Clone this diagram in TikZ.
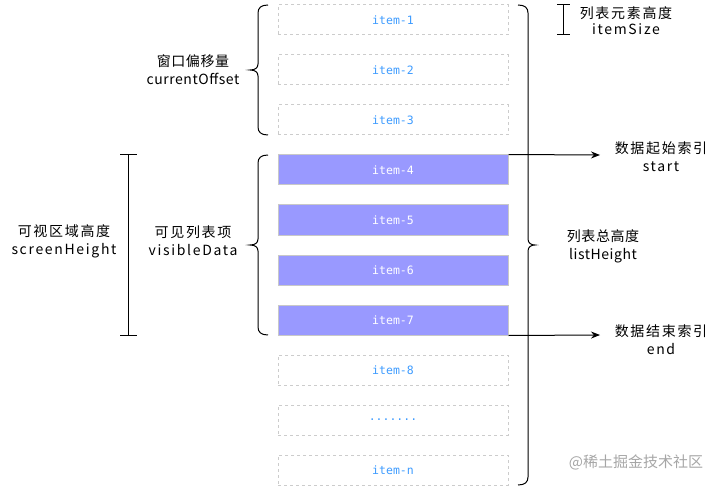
\documentclass[tikz,border=0pt]{standalone}
\usepackage{fontspec}
\usetikzlibrary{arrows.meta}
\newfontfamily\cjk[LetterSpace=4]{Noto Sans CJK SC}
\newfontfamily\cjksp[LetterSpace=12]{Noto Sans CJK SC}
\newfontfamily\cjkwm{Noto Sans CJK SC}
\newfontfamily\mono{DejaVu Sans Mono}
\definecolor{itemblue}{HTML}{3D9BFF}
\definecolor{itemfill}{HTML}{9999FF}
\definecolor{itemedge}{HTML}{C8C8C8}
\definecolor{ghostedge}{HTML}{CCCCCC}
\tikzset{
  itembox/.style={minimum width=230pt, minimum height=30pt, inner sep=0pt, line width=1pt,
    font=\mono\fontsize{11.5}{13}\selectfont},
  ghost/.style={itembox, draw=ghostedge, dash pattern=on 3pt off 3pt, text=itemblue},
  shown/.style={itembox, draw=itemedge, fill=itemfill, text=white},
  lbl/.style={align=center, inner sep=0pt, font=\cjk\fontsize{14}{18}\selectfont},
  lblsp/.style={align=center, inner sep=0pt, font=\cjksp\fontsize{14}{18}\selectfont},
  brc/.style={line width=1pt, black},
  arr/.style={line width=1pt, -{Stealth[length=9pt,width=7pt]}},
}
\begin{document}
\begin{tikzpicture}[x=1pt,y=-1pt]
\useasboundingbox (0,0) rectangle (719,486);
% items
\node[ghost] (i1) at (393,20) {item-1};
\node[ghost] (i2) at (393,70) {item-2};
\node[ghost] (i3) at (393,120) {item-3};
\node[shown] (i4) at (393,170) {item-4};
\node[shown] (i5) at (393,220) {item-5};
\node[shown] (i6) at (393,270) {item-6};
\node[shown] (i7) at (393,320) {item-7};
\node[ghost] (i8) at (393,370) {item-8};
\node[ghost] (idots) at (393,420) {.......};
\node[ghost] (in) at (393,470) {item-n};
% left brace items 1-3
\draw[brc] (268,5) .. controls (261,5) and (258,8) .. (258,13) -- (258,64)
  .. controls (258,68) and (255,70) .. (250,70) .. controls (255,70) and (258,72) .. (258,76)
  -- (258,127) .. controls (258,132) and (261,135) .. (268,135);
% left brace items 4-7
\draw[brc] (268,155) .. controls (261,155) and (258,158) .. (258,163) -- (258,239)
  .. controls (258,243) and (255,245) .. (250,245) .. controls (255,245) and (258,247) .. (258,251)
  -- (258,327) .. controls (258,332) and (261,335) .. (268,335);
% right brace all items
\draw[brc] (518,5) .. controls (525,5) and (528,8) .. (528,13) -- (528,239)
  .. controls (528,243) and (531,245) .. (535,245) .. controls (531,245) and (528,247) .. (528,251)
  -- (528,477) .. controls (528,482) and (525,485) .. (518,485);
% screenHeight bar
\draw[brc] (120,155) -- (137,155) (128.5,155) -- (128.5,335) (120,335) -- (137,335);
% itemSize bar
\draw[brc] (557,5) -- (570,5) (563.5,5) -- (563.5,35) (557,35) -- (570,35);
% labels
\node[lbl] (offset) at (193,70) {窗口偏移量\\currentOffset};
\node[lblsp] (screen) at (64,241) {可视区域高度\\screenHeight};
\node[lblsp] (visible) at (193,241) {可见列表项\\visibleData};
\node[lbl] (total) at (603,246) {列表总高度\\listHeight};
\node[lblsp, font=\cjksp\fontsize{14}{16}\selectfont] (isize) at (626,21) {列表元素高度\\itemSize};
\node[lblsp] (startl) at (661,157) {数据起始索引\\start};
\node[lblsp] (endl) at (661,340) {数据结束索引\\end};
% arrows
\coordinate (sa) at (600,155);
\coordinate (ea) at (600,335);
\draw[arr] (i4.north east) -- (sa);
\draw[arr] (i7.south east) -- (ea);
% watermark
\node[text=black!35, inner sep=0pt, font=\cjkwm\fontsize{15}{17}\selectfont] (wm) at (636,462) {@稀土掘金技术社区};
\end{tikzpicture}
\end{document}
